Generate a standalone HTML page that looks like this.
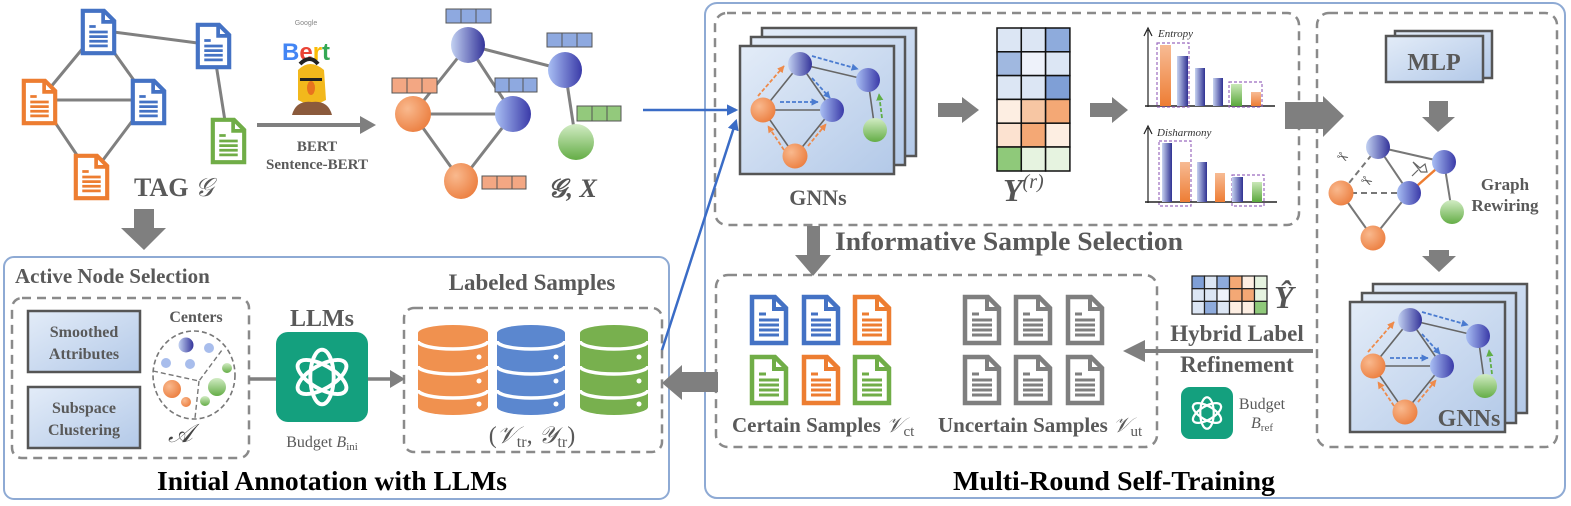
<!DOCTYPE html>
<html><head><meta charset="utf-8"><style>
html,body{margin:0;padding:0;background:#fff;width:1571px;height:506px;overflow:hidden}
svg{display:block}
.t{font-family:"Liberation Serif",serif;font-weight:bold;fill:#595959}
.tb{font-family:"Liberation Serif",serif;font-weight:bold;fill:#000}
.s{font-family:"Liberation Serif",serif;fill:#595959}
</style></head><body>
<svg width="1571" height="506" viewBox="0 0 1571 506" xmlns="http://www.w3.org/2000/svg">
<defs>
<symbol id="doc" viewBox="0 0 40 52">
<path d="M3 3 H26 L37 14 V49 H3 Z" fill="#fff" stroke="currentColor" stroke-width="4.5" stroke-linejoin="miter"/>
<path d="M25 3 V15 H37" fill="none" stroke="currentColor" stroke-width="4"/>
<path d="M10 20 H17 M10 26 H30 M10 31 H30 M10 36 H30 M10 41 H30" stroke="currentColor" stroke-width="3"/>
</symbol>
<linearGradient id="gb" x1="0" y1="0" x2="1" y2="0"><stop offset="0" stop-color="#c3d2f2"/><stop offset="1" stop-color="#34349a"/></linearGradient>
<linearGradient id="gb2" x1="0" y1="0" x2="1" y2="0"><stop offset="0" stop-color="#a9bff4"/><stop offset="1" stop-color="#3a3aa8"/></linearGradient>
<radialGradient id="go" cx="0.35" cy="0.35" r="0.7"><stop offset="0" stop-color="#f9b98e"/><stop offset="1" stop-color="#ec8042"/></radialGradient>
<linearGradient id="gg" x1="0" y1="0" x2="0" y2="1"><stop offset="0" stop-color="#d2ecc4"/><stop offset="1" stop-color="#64ad46"/></linearGradient>
<linearGradient id="gbox" x1="0" y1="0" x2="1" y2="1"><stop offset="0" stop-color="#e3ecf8"/><stop offset="1" stop-color="#b3c9e8"/></linearGradient>
<linearGradient id="barb" x1="0" y1="0" x2="1" y2="0"><stop offset="0" stop-color="#c7d3f0"/><stop offset="1" stop-color="#2f3192"/></linearGradient>
<linearGradient id="baro" x1="0" y1="0" x2="0" y2="1"><stop offset="0" stop-color="#f7bb94"/><stop offset="1" stop-color="#ee7d34"/></linearGradient>
<linearGradient id="barg" x1="0" y1="0" x2="0" y2="1"><stop offset="0" stop-color="#c9e7b7"/><stop offset="1" stop-color="#5aa83c"/></linearGradient>
<marker id="mb" viewBox="0 0 10 10" refX="9" refY="5" markerWidth="4" markerHeight="4" orient="auto"><path d="M0 0 L10 5 L0 10 Z" fill="#4a7bd0"/></marker>
<marker id="mo" viewBox="0 0 10 10" refX="9" refY="5" markerWidth="4" markerHeight="4" orient="auto"><path d="M0 0 L10 5 L0 10 Z" fill="#ee8a4a"/></marker>
<marker id="mg" viewBox="0 0 10 10" refX="9" refY="5" markerWidth="4" markerHeight="4" orient="auto"><path d="M0 0 L10 5 L0 10 Z" fill="#5fae45"/></marker>
<marker id="mbl" viewBox="0 0 10 10" refX="8" refY="5" markerWidth="4.5" markerHeight="4.5" orient="auto"><path d="M0 0 L10 5 L0 10 Z" fill="#3a6cc6"/></marker>
<g id="gnn">
<path d="M60 18 L128 34 M60 18 L23 64 M60 18 L92 64 M23 64 L92 64 M23 64 L55 110 M92 64 L55 110 M128 34 L135 84" stroke="#666" stroke-width="1.6"/>
<line x1="18" y1="50" x2="44" y2="20" stroke="#ee8a4a" stroke-width="1.8" stroke-dasharray="4 2" marker-end="url(#mo)"/>
<line x1="72" y1="10" x2="118" y2="23" stroke="#4a7bd0" stroke-width="1.8" stroke-dasharray="4 2" marker-end="url(#mb)"/>
<line x1="72" y1="32" x2="90" y2="52" stroke="#4a7bd0" stroke-width="1.8" stroke-dasharray="4 2" marker-end="url(#mb)"/>
<line x1="40" y1="56" x2="78" y2="56" stroke="#4a7bd0" stroke-width="1.8" stroke-dasharray="4 2" marker-end="url(#mb)"/>
<line x1="44" y1="104" x2="28" y2="80" stroke="#ee8a4a" stroke-width="1.8" stroke-dasharray="4 2" marker-end="url(#mo)"/>
<line x1="68" y1="100" x2="86" y2="78" stroke="#ee8a4a" stroke-width="1.8" stroke-dasharray="4 2" marker-end="url(#mo)"/>
<line x1="142" y1="72" x2="139" y2="48" stroke="#5fae45" stroke-width="1.8" stroke-dasharray="4 2" marker-end="url(#mg)"/>
<circle cx="60" cy="18" r="12" fill="url(#gb)"/>
<circle cx="128" cy="34" r="12" fill="url(#gb2)"/>
<circle cx="23" cy="64" r="12.5" fill="url(#go)"/>
<circle cx="92" cy="64" r="12" fill="url(#gb2)"/>
<circle cx="135" cy="84" r="12" fill="url(#gg)"/>
<circle cx="55" cy="110" r="12.5" fill="url(#go)"/>
</g>
<g id="gpt">
<g fill="none" stroke="#fff" stroke-width="3">
<ellipse cx="0" cy="0" rx="9" ry="21"/>
<ellipse cx="0" cy="0" rx="9" ry="21" transform="rotate(60)"/>
<ellipse cx="0" cy="0" rx="9" ry="21" transform="rotate(120)"/>
</g>
</g>
</defs>

<!-- outer boxes -->
<rect x="4" y="257" width="665" height="242" rx="10" fill="none" stroke="#8eaad4" stroke-width="2"/>
<rect x="705" y="3" width="860" height="495" rx="12" fill="none" stroke="#8eaad4" stroke-width="2"/>

<!-- dashed boxes -->
<g fill="none" stroke="#8a8a8a" stroke-width="2.5" stroke-dasharray="9 6">
<rect x="12" y="298" width="237" height="160" rx="10"/>
<rect x="404" y="308" width="258" height="144" rx="10"/>
<rect x="715" y="13" width="584" height="212" rx="12"/>
<rect x="1317" y="13" width="240" height="434" rx="12"/>
<rect x="716" y="275" width="441" height="172" rx="12"/>
</g>

<!-- left graph TAG -->
<path d="M98 30 L213 45 M98 30 L40 100 M98 30 L148 100 M40 100 L148 100 M213 45 L228 140 M40 100 L91 176 M148 100 L91 176" stroke="#808080" stroke-width="3"/>
<use href="#doc" x="80" y="8" width="37" height="48" style="color:#4472c4"/>
<use href="#doc" x="195" y="22" width="37" height="48" style="color:#4472c4"/>
<use href="#doc" x="21" y="78" width="37" height="48" style="color:#ed7d31"/>
<use href="#doc" x="130" y="78" width="37" height="48" style="color:#4472c4"/>
<use href="#doc" x="210" y="117" width="37" height="48" style="color:#70ad47"/>
<use href="#doc" x="73" y="153" width="37" height="48" style="color:#ed7d31"/>
<text x="134" y="196" class="t" font-size="26">TAG <tspan font-style="italic" font-weight="normal">𝒢</tspan></text>

<!-- down arrow from TAG -->
<path d="M134 209 H154 V228 H166 L144 250 L121 228 H134 Z" fill="#7f7f7f"/>

<!-- Bert -->
<text x="306" y="25" font-family="Liberation Sans,sans-serif" font-size="7" fill="#888" text-anchor="middle">Google</text>
<text x="282" y="60" font-family="Liberation Sans,sans-serif" font-weight="bold" font-size="24"><tspan fill="#4285f4">B</tspan><tspan fill="#ea4335">e</tspan><tspan fill="#fbbc05">r</tspan><tspan fill="#34a853">t</tspan></text>
<path d="M298 70 Q310 58 324 70 L326 100 Q312 108 298 100 Z" fill="#f2b81c"/>
<path d="M300 64 Q310 54 318 64" stroke="#222" stroke-width="4" fill="none"/>
<rect x="300" y="78" width="22" height="3" fill="#222"/>
<ellipse cx="311" cy="88" rx="4" ry="7" fill="#e8731e"/>
<path d="M292 115 Q296 100 312 102 Q328 100 332 115 Z" fill="#8b5a3c"/>

<!-- BERT arrow -->
<line x1="257" y1="125" x2="362" y2="125" stroke="#7f7f7f" stroke-width="4"/>
<path d="M360 116 L376 125 L360 134 Z" fill="#7f7f7f"/>
<text x="317" y="151" class="t" font-size="15" text-anchor="middle">BERT</text>
<text x="317" y="169" class="t" font-size="15" text-anchor="middle">Sentence-BERT</text>

<!-- graph 2 -->
<path d="M468 45 L565 70 M468 45 L413 114 M468 45 L513 114 M413 114 L513 114 M413 114 L461 181 M513 114 L461 181 M565 70 L576 142" stroke="#808080" stroke-width="3"/>
<g stroke="#555" stroke-width="1">
<g fill="#8ea9e0"><rect x="446" y="9" width="15" height="14"/><rect x="461" y="9" width="15" height="14"/><rect x="476" y="9" width="15" height="14"/>
<rect x="547" y="33" width="15" height="14"/><rect x="562" y="33" width="15" height="14"/><rect x="577" y="33" width="15" height="14"/>
<rect x="495" y="78" width="14" height="14"/><rect x="509" y="78" width="14" height="14"/><rect x="523" y="78" width="14" height="14"/></g>
<g fill="#f3a783"><rect x="392" y="78" width="15" height="15"/><rect x="407" y="78" width="15" height="15"/><rect x="422" y="78" width="15" height="15"/>
<rect x="482" y="176" width="15" height="13"/><rect x="497" y="176" width="15" height="13"/><rect x="512" y="176" width="14" height="13"/></g>
<g fill="#93c97c"><rect x="577" y="106" width="15" height="15"/><rect x="592" y="106" width="15" height="15"/><rect x="607" y="106" width="14" height="15"/></g>
</g>
<ellipse cx="468" cy="45" rx="17" ry="18" fill="url(#gb)"/>
<ellipse cx="565" cy="70" rx="17" ry="18" fill="url(#gb2)"/>
<ellipse cx="413" cy="114" rx="18" ry="18" fill="url(#go)"/>
<ellipse cx="513" cy="114" rx="18" ry="18" fill="url(#gb2)"/>
<ellipse cx="576" cy="142" rx="18" ry="18" fill="url(#gg)"/>
<ellipse cx="461" cy="181" rx="17" ry="18" fill="url(#go)"/>
<text x="548" y="197" font-family="Liberation Serif,serif" font-size="26" fill="#555" font-style="italic" font-weight="bold">𝒢, X</text>

<!-- blue connectors -->
<line x1="643" y1="110" x2="736" y2="110" stroke="#3a6cc6" stroke-width="2.5" marker-end="url(#mbl)"/>
<line x1="662" y1="350" x2="736" y2="121" stroke="#3a6cc6" stroke-width="2.5" marker-end="url(#mbl)"/>

<!-- GNN stack top -->
<g stroke="#555" stroke-width="2.5" fill="url(#gbox)">
<rect x="762" y="28" width="154" height="128"/>
<rect x="751" y="37" width="154" height="128"/>
<rect x="740" y="46" width="154" height="128"/>
</g>
<use href="#gnn" x="740" y="46"/>
<text x="818" y="205" class="t" font-size="22" text-anchor="middle">GNNs</text>

<!-- block arrows -->
<path d="M938 103 H962 V97 L979 110 L962 123 V117 H938 Z" fill="#7f7f7f"/>
<path d="M1090 103 H1112 V97 L1128 110 L1112 123 V117 H1090 Z" fill="#7f7f7f"/>
<path d="M1285 102 H1323 V96 L1344 116 L1323 137 V129 H1285 Z" fill="#7f7f7f"/>

<!-- Y matrix -->
<g stroke="#111" stroke-width="1.5">
<rect x="997" y="28" width="24.3" height="23.8" fill="#dce6f4"/><rect x="1021.3" y="28" width="24.3" height="23.8" fill="#dce6f4"/><rect x="1045.6" y="28" width="24.3" height="23.8" fill="#8eabdc"/>
<rect x="997" y="51.8" width="24.3" height="23.8" fill="#a0b8e0"/><rect x="1021.3" y="51.8" width="24.3" height="23.8" fill="#eef2fa"/><rect x="1045.6" y="51.8" width="24.3" height="23.8" fill="#dce6f4"/>
<rect x="997" y="75.6" width="24.3" height="23.8" fill="#dce6f4"/><rect x="1021.3" y="75.6" width="24.3" height="23.8" fill="#dce6f4"/><rect x="1045.6" y="75.6" width="24.3" height="23.8" fill="#7f9fd6"/>
<rect x="997" y="99.4" width="24.3" height="23.8" fill="#fdeee2"/><rect x="1021.3" y="99.4" width="24.3" height="23.8" fill="#f7c6a3"/><rect x="1045.6" y="99.4" width="24.3" height="23.8" fill="#f4a875"/>
<rect x="997" y="123.2" width="24.3" height="23.8" fill="#fce2d0"/><rect x="1021.3" y="123.2" width="24.3" height="23.8" fill="#f4a875"/><rect x="1045.6" y="123.2" width="24.3" height="23.8" fill="#fdeee2"/>
<rect x="997" y="147" width="24.3" height="24" fill="#8fc97a"/><rect x="1021.3" y="147" width="24.3" height="24" fill="#e6f3e0"/><rect x="1045.6" y="147" width="24.3" height="24" fill="#e6f3e0"/>
</g>
<text x="1003" y="201" font-family="Liberation Serif,serif" font-size="32" fill="#555" font-style="italic" font-weight="bold">Y<tspan font-size="20" dy="-13" font-weight="normal">(r)</tspan></text>

<!-- Entropy chart -->
<path d="M1148 107 V30 M1144 36 L1148 28 L1152 36" stroke="#222" stroke-width="1.2" fill="none"/>
<line x1="1145" y1="106" x2="1275" y2="106" stroke="#222" stroke-width="1.5"/>
<text x="1158" y="37" font-family="Liberation Serif,serif" font-style="italic" font-size="11" fill="#333">Entropy</text>
<rect x="1160" y="45" width="11" height="61" fill="url(#baro)"/>
<rect x="1177" y="56" width="11" height="50" fill="url(#barb)"/>
<rect x="1195" y="68" width="10" height="38" fill="url(#barb)"/>
<rect x="1213" y="78" width="10" height="28" fill="url(#barb)"/>
<rect x="1231" y="84" width="11" height="22" fill="url(#barg)"/>
<rect x="1251" y="92" width="10" height="14" fill="url(#baro)"/>
<g fill="none" stroke="#9b6bbf" stroke-width="1.2" stroke-dasharray="3 2">
<rect x="1157" y="43" width="32" height="64"/><rect x="1229" y="82" width="33" height="25"/>
<rect x="1159" y="141" width="32" height="65"/><rect x="1232" y="175" width="32" height="31"/>
</g>
<!-- Disharmony -->
<path d="M1148 203 V128 M1144 134 L1148 126 L1152 134" stroke="#222" stroke-width="1.2" fill="none"/>
<line x1="1145" y1="202" x2="1277" y2="202" stroke="#222" stroke-width="1.5"/>
<text x="1157" y="136" font-family="Liberation Serif,serif" font-style="italic" font-size="11" fill="#333">Disharmony</text>
<rect x="1162" y="143" width="10" height="59" fill="url(#barb)"/>
<rect x="1180" y="162" width="10" height="40" fill="url(#baro)"/>
<rect x="1197" y="162" width="10" height="40" fill="url(#barb)"/>
<rect x="1215" y="173" width="10" height="29" fill="url(#baro)"/>
<rect x="1232" y="177" width="11" height="25" fill="url(#barb)"/>
<rect x="1252" y="182" width="10" height="20" fill="url(#barg)"/>

<!-- MLP -->
<g stroke="#555" stroke-width="2.5" fill="url(#gbox)">
<rect x="1395" y="31" width="97" height="47"/>
<rect x="1386" y="36" width="97" height="46"/>
</g>
<text x="1434" y="70" class="t" font-size="24" text-anchor="middle">MLP</text>
<path d="M1429 101 H1448 V117 H1455 L1438 132 L1422 117 H1429 Z" fill="#7f7f7f"/>

<!-- rewiring graph -->
<path d="M1378 147 L1444 162 M1378 147 L1409 193 M1444 162 L1452 212 M1341 193 L1373 238 M1409 193 L1373 238" stroke="#777" stroke-width="2"/>
<path d="M1378 147 L1341 193 M1341 193 L1409 193" stroke="#777" stroke-width="2" stroke-dasharray="6 4"/>
<line x1="1409" y1="193" x2="1444" y2="162" stroke="#ee7d31" stroke-width="2.5"/>
<text x="1337" y="162" font-size="14" fill="#555" font-family="DejaVu Sans,sans-serif" transform="rotate(30 1343 157)">✂</text>
<text x="1361" y="186" font-size="14" fill="#555" font-family="DejaVu Sans,sans-serif" transform="rotate(30 1367 181)">✂</text>
<path d="M1413 162 L1420 168 L1425 164 L1427 172 L1421 172 Z M1412 176 L1418 170" stroke="#666" stroke-width="1.2" fill="#fff"/>
<circle cx="1378" cy="147" r="12" fill="url(#gb)"/>
<circle cx="1444" cy="162" r="12" fill="url(#gb2)"/>
<circle cx="1341" cy="193" r="12.5" fill="url(#go)"/>
<circle cx="1409" cy="193" r="12" fill="url(#gb2)"/>
<circle cx="1452" cy="212" r="12" fill="url(#gg)"/>
<circle cx="1373" cy="238" r="12.5" fill="url(#go)"/>
<text x="1505" y="190" class="t" font-size="17" text-anchor="middle">Graph</text>
<text x="1505" y="211" class="t" font-size="17" text-anchor="middle">Rewiring</text>

<!-- down arrow right -->
<path d="M1429 250 H1449 V256 H1456 L1439 272 L1422 256 H1429 Z" fill="#7f7f7f"/>

<!-- GNN stack bottom -->
<g stroke="#555" stroke-width="2.5" fill="url(#gbox)">
<rect x="1373" y="284" width="154" height="129"/>
<rect x="1362" y="293" width="154" height="130"/>
<rect x="1350" y="302" width="155" height="130"/>
</g>
<use href="#gnn" x="1350" y="302"/>
<text x="1469" y="426" class="t" font-size="24" text-anchor="middle" fill="#777">GNNs</text>

<!-- Informative sample selection -->
<path d="M807 226 H820 V255 H831 L813 276 L795 255 H807 Z" fill="#7f7f7f"/>
<text x="835" y="250" class="t" font-size="26" textLength="348" lengthAdjust="spacingAndGlyphs">Informative Sample Selection</text>

<!-- certain docs -->
<use href="#doc" x="749" y="294" width="40" height="52" style="color:#4472c4"/>
<use href="#doc" x="801" y="294" width="40" height="52" style="color:#4472c4"/>
<use href="#doc" x="852" y="294" width="40" height="52" style="color:#ed7d31"/>
<use href="#doc" x="749" y="354" width="40" height="52" style="color:#70ad47"/>
<use href="#doc" x="801" y="354" width="40" height="52" style="color:#ed7d31"/>
<use href="#doc" x="852" y="354" width="40" height="52" style="color:#70ad47"/>
<use href="#doc" x="962" y="294" width="40" height="52" style="color:#7f7f7f"/>
<use href="#doc" x="1013" y="294" width="40" height="52" style="color:#7f7f7f"/>
<use href="#doc" x="1065" y="294" width="40" height="52" style="color:#7f7f7f"/>
<use href="#doc" x="962" y="354" width="40" height="52" style="color:#7f7f7f"/>
<use href="#doc" x="1013" y="354" width="40" height="52" style="color:#7f7f7f"/>
<use href="#doc" x="1065" y="354" width="40" height="52" style="color:#7f7f7f"/>
<text x="732" y="432" class="t" font-size="21">Certain Samples <tspan font-style="italic" font-weight="normal">𝒱</tspan><tspan font-size="15" dy="4" font-weight="normal">ct</tspan></text>
<text x="938" y="432" class="t" font-size="21">Uncertain Samples <tspan font-style="italic" font-weight="normal">𝒱</tspan><tspan font-size="15" dy="4" font-weight="normal">ut</tspan></text>

<!-- Y hat -->
<g stroke="#222" stroke-width="1.2">
<rect x="1192" y="276" width="12.5" height="12.7" fill="#7f9fd6"/><rect x="1204.5" y="276" width="12.5" height="12.7" fill="#dce6f4"/><rect x="1217" y="276" width="12.5" height="12.7" fill="#8eabdc"/><rect x="1229.5" y="276" width="12.5" height="12.7" fill="#f4a875"/><rect x="1242" y="276" width="12.5" height="12.7" fill="#fdeee2"/><rect x="1254.5" y="276" width="12.5" height="12.7" fill="#e6f3e0"/>
<rect x="1192" y="288.7" width="12.5" height="12.7" fill="#dce6f4"/><rect x="1204.5" y="288.7" width="12.5" height="12.7" fill="#dce6f4"/><rect x="1217" y="288.7" width="12.5" height="12.7" fill="#eef2fa"/><rect x="1229.5" y="288.7" width="12.5" height="12.7" fill="#f4a875"/><rect x="1242" y="288.7" width="12.5" height="12.7" fill="#f4a875"/><rect x="1254.5" y="288.7" width="12.5" height="12.7" fill="#e6f3e0"/>
<rect x="1192" y="301.4" width="12.5" height="12.7" fill="#dce6f4"/><rect x="1204.5" y="301.4" width="12.5" height="12.7" fill="#8eabdc"/><rect x="1217" y="301.4" width="12.5" height="12.7" fill="#dce6f4"/><rect x="1229.5" y="301.4" width="12.5" height="12.7" fill="#fdeee2"/><rect x="1242" y="301.4" width="12.5" height="12.7" fill="#fdeee2"/><rect x="1254.5" y="301.4" width="12.5" height="12.7" fill="#8fc97a"/>
</g>
<text x="1274" y="308" font-family="Liberation Serif,serif" font-size="32" fill="#555" font-style="italic" font-weight="bold">Ŷ</text>
<text x="1237" y="341" class="t" font-size="23" text-anchor="middle">Hybrid Label</text>
<text x="1237" y="372" class="t" font-size="23" text-anchor="middle">Refinement</text>
<line x1="1313" y1="351" x2="1140" y2="351" stroke="#7f7f7f" stroke-width="4"/>
<path d="M1145 340 L1123 351 L1145 362 Z" fill="#7f7f7f"/>
<rect x="1181" y="387" width="52" height="52" rx="9" fill="#14a07e"/>
<use href="#gpt" transform="translate(1207 413) scale(0.75)"/>
<text x="1262" y="409" class="s" font-size="16" text-anchor="middle">Budget</text>
<text x="1262" y="428" class="s" font-size="16" text-anchor="middle"><tspan font-style="italic">B</tspan><tspan font-size="11" dy="3">ref</tspan></text>

<!-- block arrow left to labeled samples -->
<path d="M718 372 V392 H682 V400 L662 383 L682 365 V372 Z" fill="#7f7f7f"/>

<!-- Active Node Selection -->
<text x="15" y="283" class="t" font-size="21" fill="#444">Active Node Selection</text>
<g stroke="#555" stroke-width="2.5" fill="url(#gbox)">
<rect x="28" y="311" width="112" height="61"/>
<rect x="28" y="387" width="112" height="61"/>
</g>
<text x="84" y="337" class="t" font-size="16" text-anchor="middle">Smoothed</text>
<text x="84" y="359" class="t" font-size="16" text-anchor="middle">Attributes</text>
<text x="84" y="413" class="t" font-size="16" text-anchor="middle">Subspace</text>
<text x="84" y="435" class="t" font-size="16" text-anchor="middle">Clustering</text>
<text x="196" y="322" class="t" font-size="16" text-anchor="middle">Centers</text>
<ellipse cx="194" cy="375" rx="41" ry="44" fill="none" stroke="#777" stroke-width="1.6" stroke-dasharray="5 3"/>
<path d="M153 371 L199 381 L222 350 M199 381 L195 418" stroke="#777" stroke-width="1.4" stroke-dasharray="5 3" fill="none"/>
<circle cx="186" cy="345" r="7.5" fill="url(#gb)"/>
<circle cx="209" cy="348" r="5" fill="#a8bdec"/>
<circle cx="166" cy="363" r="5" fill="#a8bdec"/>
<circle cx="190" cy="364" r="5" fill="#a8bdec"/>
<circle cx="227" cy="368" r="5" fill="url(#gg)"/>
<circle cx="217" cy="387" r="9" fill="url(#gg)"/>
<circle cx="205" cy="401" r="5" fill="url(#gg)"/>
<circle cx="172" cy="389" r="9" fill="url(#go)"/>
<circle cx="186" cy="402" r="5" fill="url(#go)"/>
<text x="168" y="442" font-family="DejaVu Serif,serif" font-style="italic" font-size="26" fill="#444">𝒜</text>

<!-- LLMs -->
<text x="322" y="326" class="t" font-size="24" text-anchor="middle">LLMs</text>
<line x1="249" y1="379" x2="276" y2="379" stroke="#7f7f7f" stroke-width="3.5"/>
<rect x="276" y="332" width="92" height="90" rx="12" fill="#14a07e"/>
<use href="#gpt" transform="translate(322 377) scale(1.3)"/>
<line x1="368" y1="379" x2="392" y2="379" stroke="#7f7f7f" stroke-width="3.5"/>
<path d="M390 370 L405 379 L390 388 Z" fill="#7f7f7f"/>
<text x="322" y="447" class="s" font-size="16" text-anchor="middle">Budget <tspan font-style="italic">B</tspan><tspan font-size="11" dy="3">ini</tspan></text>

<!-- Labeled Samples -->
<text x="532" y="290" class="t" font-size="23" text-anchor="middle">Labeled Samples</text>
<g>
<path d="M418 333 A35 8 0 0 1 488 333 V407 A35 8 0 0 1 418 407 Z" fill="#f0914f"/>
<path d="M497 333 A34 8 0 0 1 565 333 V407 A34 8 0 0 1 497 407 Z" fill="#5b87cf"/>
<path d="M580 333 A34 8 0 0 1 648 333 V407 A34 8 0 0 1 580 407 Z" fill="#78b04e"/>
<g fill="none" stroke="#fff" stroke-width="3.5">
<path d="M418 341 A35 8 0 0 0 488 341 M418 366 A35 8 0 0 0 488 366 M418 390 A35 8 0 0 0 488 390"/>
<path d="M497 341 A34 8 0 0 0 565 341 M497 366 A34 8 0 0 0 565 366 M497 390 A34 8 0 0 0 565 390"/>
<path d="M580 341 A34 8 0 0 0 648 341 M580 366 A34 8 0 0 0 648 366 M580 390 A34 8 0 0 0 648 390"/>
</g>
<g fill="#fff">
<circle cx="479" cy="357" r="2.5"/><circle cx="479" cy="381" r="2.5"/><circle cx="479" cy="404" r="2.5"/>
<circle cx="556" cy="357" r="2.5"/><circle cx="556" cy="381" r="2.5"/><circle cx="556" cy="404" r="2.5"/>
<circle cx="639" cy="357" r="2.5"/><circle cx="639" cy="381" r="2.5"/><circle cx="639" cy="404" r="2.5"/>
</g>
</g>
<text x="532" y="443" class="s" font-size="24" text-anchor="middle" fill="#444">(<tspan font-style="italic">𝒱</tspan><tspan font-size="16" dy="4">tr</tspan><tspan dy="-4">, </tspan><tspan font-style="italic">𝒴</tspan><tspan font-size="16" dy="4">tr</tspan><tspan dy="-4">)</tspan></text>

<!-- titles -->
<text x="157" y="490" class="tb" font-size="27" textLength="350" lengthAdjust="spacingAndGlyphs">Initial Annotation with LLMs</text>
<text x="953" y="490" class="tb" font-size="27" textLength="322" lengthAdjust="spacingAndGlyphs">Multi-Round Self-Training</text>
</svg>
</body></html>
